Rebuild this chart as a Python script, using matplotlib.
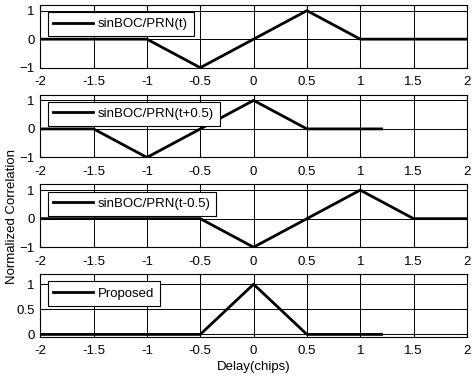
import matplotlib as mpl
mpl.use('Agg')
import matplotlib.pyplot as plt

plt.rcParams['font.family'] = ['Liberation Sans', 'DejaVu Sans']

# correlation curves
x_t = [-2, -1, -0.5, 0.5, 1, 2]
y_t = [0, 0, -1, 1, 0, 0]
x_plus = [-2, -1.5, -1, 0, 0.5, 1.2]
y_plus = [0, 0, -1, 1, 0, 0]
x_minus = [-2, -0.5, 0, 1, 1.5, 2]
y_minus = [0, 0, -1, 1, 0, 0]
x_prop = [-2, -0.5, 0, 0.5, 1.2]
y_prop = [0, 0, 1, 0, 0]

labels = ['sinBOC/PRN(t)', 'sinBOC/PRN(t+0.5)', 'sinBOC/PRN(t-0.5)', 'Proposed']
xticks = [-2, -1.5, -1, -0.5, 0, 0.5, 1, 1.5, 2]

series = [(x_t, y_t), (x_plus, y_plus), (x_minus, y_minus), (x_prop, y_prop)]

fig, axes = plt.subplots(4, 1, figsize=(4.74, 3.79), dpi=100)
plt.subplots_adjust(left=0.085, right=0.985, top=0.987, bottom=0.111, hspace=0.43)

for i, ax in enumerate(axes):
    xs, ys = series[i]
    ax.plot(xs, ys, color='black', linewidth=2, label=labels[i])
    ax.set_xlim(-2, 2)
    if i == 3:
        ax.set_ylim(-0.05, 1.2)
        ax.set_yticks([0, 0.5, 1])
        ax.set_yticklabels(['0', '0.5', '1'])
    else:
        ax.set_ylim(-1, 1.2)
        ax.set_yticks([-1, 0, 1])
    ax.set_xticks(xticks)
    ax.set_xticklabels(['%g' % v for v in xticks])
    ax.grid(True, color='black', linewidth=0.7, linestyle='-')
    ax.tick_params(direction='in', length=3, labelsize=9.5, top=True, right=True)
    ax.tick_params(axis='x', pad=6)
    ax.tick_params(axis='y', pad=4)
    for s in ax.spines.values():
        s.set_linewidth(0.8)
    leg = ax.legend(loc='upper left', fontsize=9.5, fancybox=False, framealpha=1,
                    edgecolor='black', borderaxespad=0.55, handlelength=3.0,
                    handletextpad=0.35, borderpad=0.45)
    leg.get_frame().set_linewidth(0.8)

axes[3].set_xlabel('Delay(chips)', fontsize=9.5, labelpad=3)
fig.text(0.025, 0.43, 'Normalized Correlation', rotation=90, ha='center', va='center', fontsize=9.5)

plt.savefig('out.png', dpi=100)
